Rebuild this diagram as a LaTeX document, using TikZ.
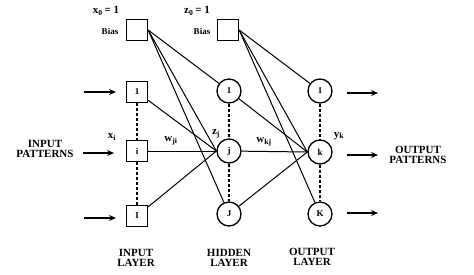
\documentclass[tikz,border=0pt]{standalone}
\usepackage{fontspec}
\setmainfont{Liberation Serif}
\usetikzlibrary{arrows.meta}
\tikzset{
	netstyle/.style={
		>={Stealth[length=7pt, width=6pt]},
		line width=1pt,
		font=\bfseries}}
\newcommand{\bvar}[2]{\textbf{#1}$_{\mathbf{#2}}$}

\begin{document}
\begin{tikzpicture}[netstyle, x=1pt, y=-1pt,
	every text node part/.style={align=center},
	unitbox/.style={draw, line width=1.3pt, minimum size=21pt, inner sep=0pt, font=\bfseries\small},
	neuron/.style={circle, draw, line width=1.3pt, minimum size=24pt, inner sep=0pt, font=\bfseries\small},
	layerdots/.style={line width=1.1pt, dash pattern=on 3pt off 2pt},
	flow/.style={->, line width=1.4pt},
	caption/.style={font=\fontsize{11}{10}\bfseries, inner sep=0pt},
	]
	\useasboundingbox (0,0) rectangle (474,274);

	% bias units
	\node[unitbox] (bx) at (137, 30) {};
	\node[unitbox] (bz) at (228, 30) {};
	\node[font=\bfseries\small] (bxl) at (110, 31) {Bias};
	\node[font=\bfseries\small] (bzl) at (202, 31) {Bias};
	\node[font=\fontsize{11}{12}\bfseries] (bxv) at (106, 11) {\bvar{x}{0}\,\textbf{= 1}};
	\node[font=\fontsize{11}{12}\bfseries] (bzv) at (197, 11) {\bvar{z}{0}\,\textbf{= 1}};

	% input layer
	\node[unitbox] (in1) at (137, 92) {1};
	\node[unitbox] (ini) at (137, 151) {i};
	\node[unitbox] (inI) at (137, 216) {I};

	% hidden layer
	\node[neuron] (h1) at (229, 91) {1};
	\node[neuron] (hj) at (229, 151) {j};
	\node[neuron] (hJ) at (229, 214) {J};

	% output layer
	\node[neuron] (o1) at (320, 91) {1};
	\node[neuron] (ok) at (320, 152) {k};
	\node[neuron] (oK) at (320, 214) {K};

	\draw[layerdots] (in1) -- (ini) -- (inI);
	\draw[layerdots] (h1) -- (hj) -- (hJ);
	\draw[layerdots] (o1) -- (ok) -- (oK);

	% weights input -> hidden
	\draw (bx.east) -- (h1);
	\draw (bx.east) -- (hj.west);
	\draw (bx.east) -- (hJ);
	\draw (in1) -- (hj.west);
	\draw (ini) -- (hj.west);
	\draw (inI) -- (hj.west);

	% weights hidden -> output
	\draw (bz.east) -- (o1);
	\draw (bz.east) -- (ok.west);
	\draw (bz.east) -- (oK);
	\draw (h1) -- (ok.west);
	\draw (hj) -- (ok.west);
	\draw (hJ) -- (ok.west);

	% input and output arrows
	\coordinate (a1s) at (84, 92);
	\coordinate (a1e) at (116, 92);
	\coordinate (ais) at (83, 153);
	\coordinate (aie) at (114, 153);
	\coordinate (aIs) at (84, 218);
	\coordinate (aIe) at (116, 218);
	\draw[flow] (a1s) -- (a1e);
	\draw[flow] (ais) -- (aie);
	\draw[flow] (aIs) -- (aIe);
	\coordinate (b1s) at (347, 93);
	\coordinate (b1e) at (378, 93);
	\coordinate (bks) at (347, 155);
	\coordinate (bke) at (378, 155);
	\coordinate (bKs) at (347, 213);
	\coordinate (bKe) at (378, 213);
	\draw[flow] (b1s) -- (b1e);
	\draw[flow] (bks) -- (bke);
	\draw[flow] (bKs) -- (bKe);

	% labels
	\node[font=\fontsize{11}{12}\bfseries] (xi) at (112, 137) {\bvar{x}{i}};
	\node[font=\fontsize{11}{12}\bfseries] (wji) at (171, 141) {\bvar{w}{ji}};
	\node[font=\fontsize{11}{12}\bfseries] (zj) at (216, 134) {\bvar{z}{j}};
	\node[font=\fontsize{11}{12}\bfseries] (wkj) at (264, 142) {\bvar{w}{kj}};
	\node[font=\fontsize{11}{12}\bfseries] (yk) at (339, 136) {\bvar{y}{k}};
	\node[caption] (inpat) at (45, 149) {INPUT\\PATTERNS};
	\node[caption] (outpat) at (418, 155) {OUTPUT\\PATTERNS};
	\node[caption] (inlay) at (136, 258) {INPUT\\LAYER};
	\node[caption] (hidlay) at (229, 258) {HIDDEN\\LAYER};
	\node[caption] (outlay) at (312, 257) {OUTPUT\\LAYER};

\end{tikzpicture}
\end{document}
